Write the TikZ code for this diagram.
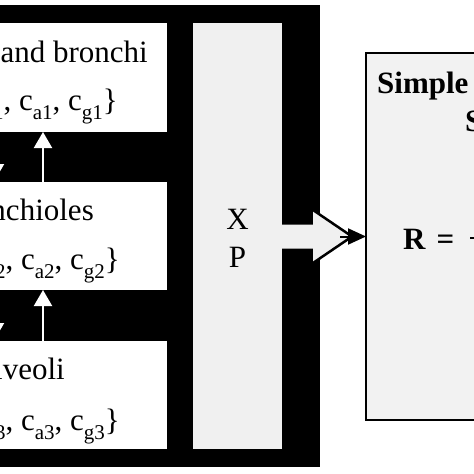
\documentclass[tikz,border=0pt]{standalone}
\usepackage{fontspec}
\setmainfont{Liberation Serif}
\usetikzlibrary{arrows.meta}
\definecolor{panelgray}{HTML}{F0F0F0}
\definecolor{boxgray}{HTML}{F2F2F2}
\newcommand\sbsc[1]{\raisebox{-0.32em}{\fontsize{21}{21}\selectfont #1}}
\begin{document}
\begin{tikzpicture}[x=1pt,y=-1pt,
  txt/.style={inner sep=0pt, font=\fontsize{31}{36}\selectfont},
  btxt/.style={inner sep=0pt, font=\fontsize{31}{36}\selectfont\bfseries},
  whitebox/.style={fill=white, inner sep=0pt, outer sep=0pt, minimum width=294pt},
  panel/.style={fill=panelgray, inner sep=0pt, outer sep=0pt},
  rbox/.style={fill=boxgray, draw=black, line width=2pt, inner sep=0pt, outer sep=0pt},
  uparr/.style={white, line width=2pt, -{Triangle[width=18pt,length=16pt]}},
  dnarr/.style={white, line width=2pt, shorten >=2pt, -{Triangle[width=18pt,length=16pt]}}
]
\useasboundingbox (0,0) rectangle (474,474);
\fill[white] (0,0) rectangle (474,474);
% black frame
\fill[black] (-160,5) rectangle (320,467);
% compartments
\node[whitebox, minimum height=109pt, anchor=north east] (box1) at (167,23) {};
\node[whitebox, minimum height=108pt, anchor=north east] (box2) at (167,182) {};
\node[whitebox, minimum height=108pt, anchor=north east] (box3) at (167,341) {};
% gray panel
\node[panel, minimum width=89pt, minimum height=426pt, anchor=north west] (panel) at (193,23) {};
% right box
\node[rbox, minimum width=220pt, minimum height=367pt, anchor=north west] (rbox) at (366,53) {};
% arrows between compartments
\coordinate (ux) at (43,0);
\coordinate (dx) at (-5,0);
\draw[uparr] (box2.north -| ux) -- (box1.south -| ux);
\draw[uparr] (box3.north -| ux) -- (box2.south -| ux);
\draw[dnarr] (box1.south -| dx) -- (box2.north -| dx);
\draw[dnarr] (box2.south -| dx) -- (box3.north -| dx);
% big arrow from panel to right box
\fill[panelgray] (281,224.5) -- (313,224.5) -- (313,210) -- (352,236.5) -- (313,263) -- (313,248.5) -- (281,248.5) -- cycle;
\draw[line width=2.5pt, line join=miter] (313,210) -- (352,236.5) -- (313,263);
\coordinate (tipstart) at (340,236.5);
\draw[line width=2pt, -{Triangle[width=16pt,length=18pt]}] (tipstart) -- (rbox.west);
% texts
\node[txt, anchor=base east] (l1a) at (148,62) {Trachea and bronchi};
\node[txt, anchor=base east] (l1b) at (118,110) {\{c\sbsc{l1}, c\sbsc{a1}, c\sbsc{g1}\}};
\node[txt, anchor=base east] (l2a) at (94,220) {Bronchioles};
\node[txt, anchor=base east] (l2b) at (120,269) {\{c\sbsc{l2}, c\sbsc{a2}, c\sbsc{g2}\}};
\node[txt, anchor=base east] (l3a) at (65,379) {Alveoli};
\node[txt, anchor=base east] (l3b) at (120,430) {\{c\sbsc{l3}, c\sbsc{a3}, c\sbsc{g3}\}};
\node[txt, anchor=base] (xl) at (237.5,229) {X};
\node[txt, anchor=base] (pl) at (237.5,267) {P};
\node[btxt, anchor=base west] (st) at (377,93) {Simple};
\node[btxt, anchor=base west] (s2) at (465,131) {S};
\node[btxt, anchor=base west] (req) at (403,249) {R\hspace{11pt}=};
\draw[line width=2pt] (470,238) -- (480,238);
\end{tikzpicture}
\end{document}
